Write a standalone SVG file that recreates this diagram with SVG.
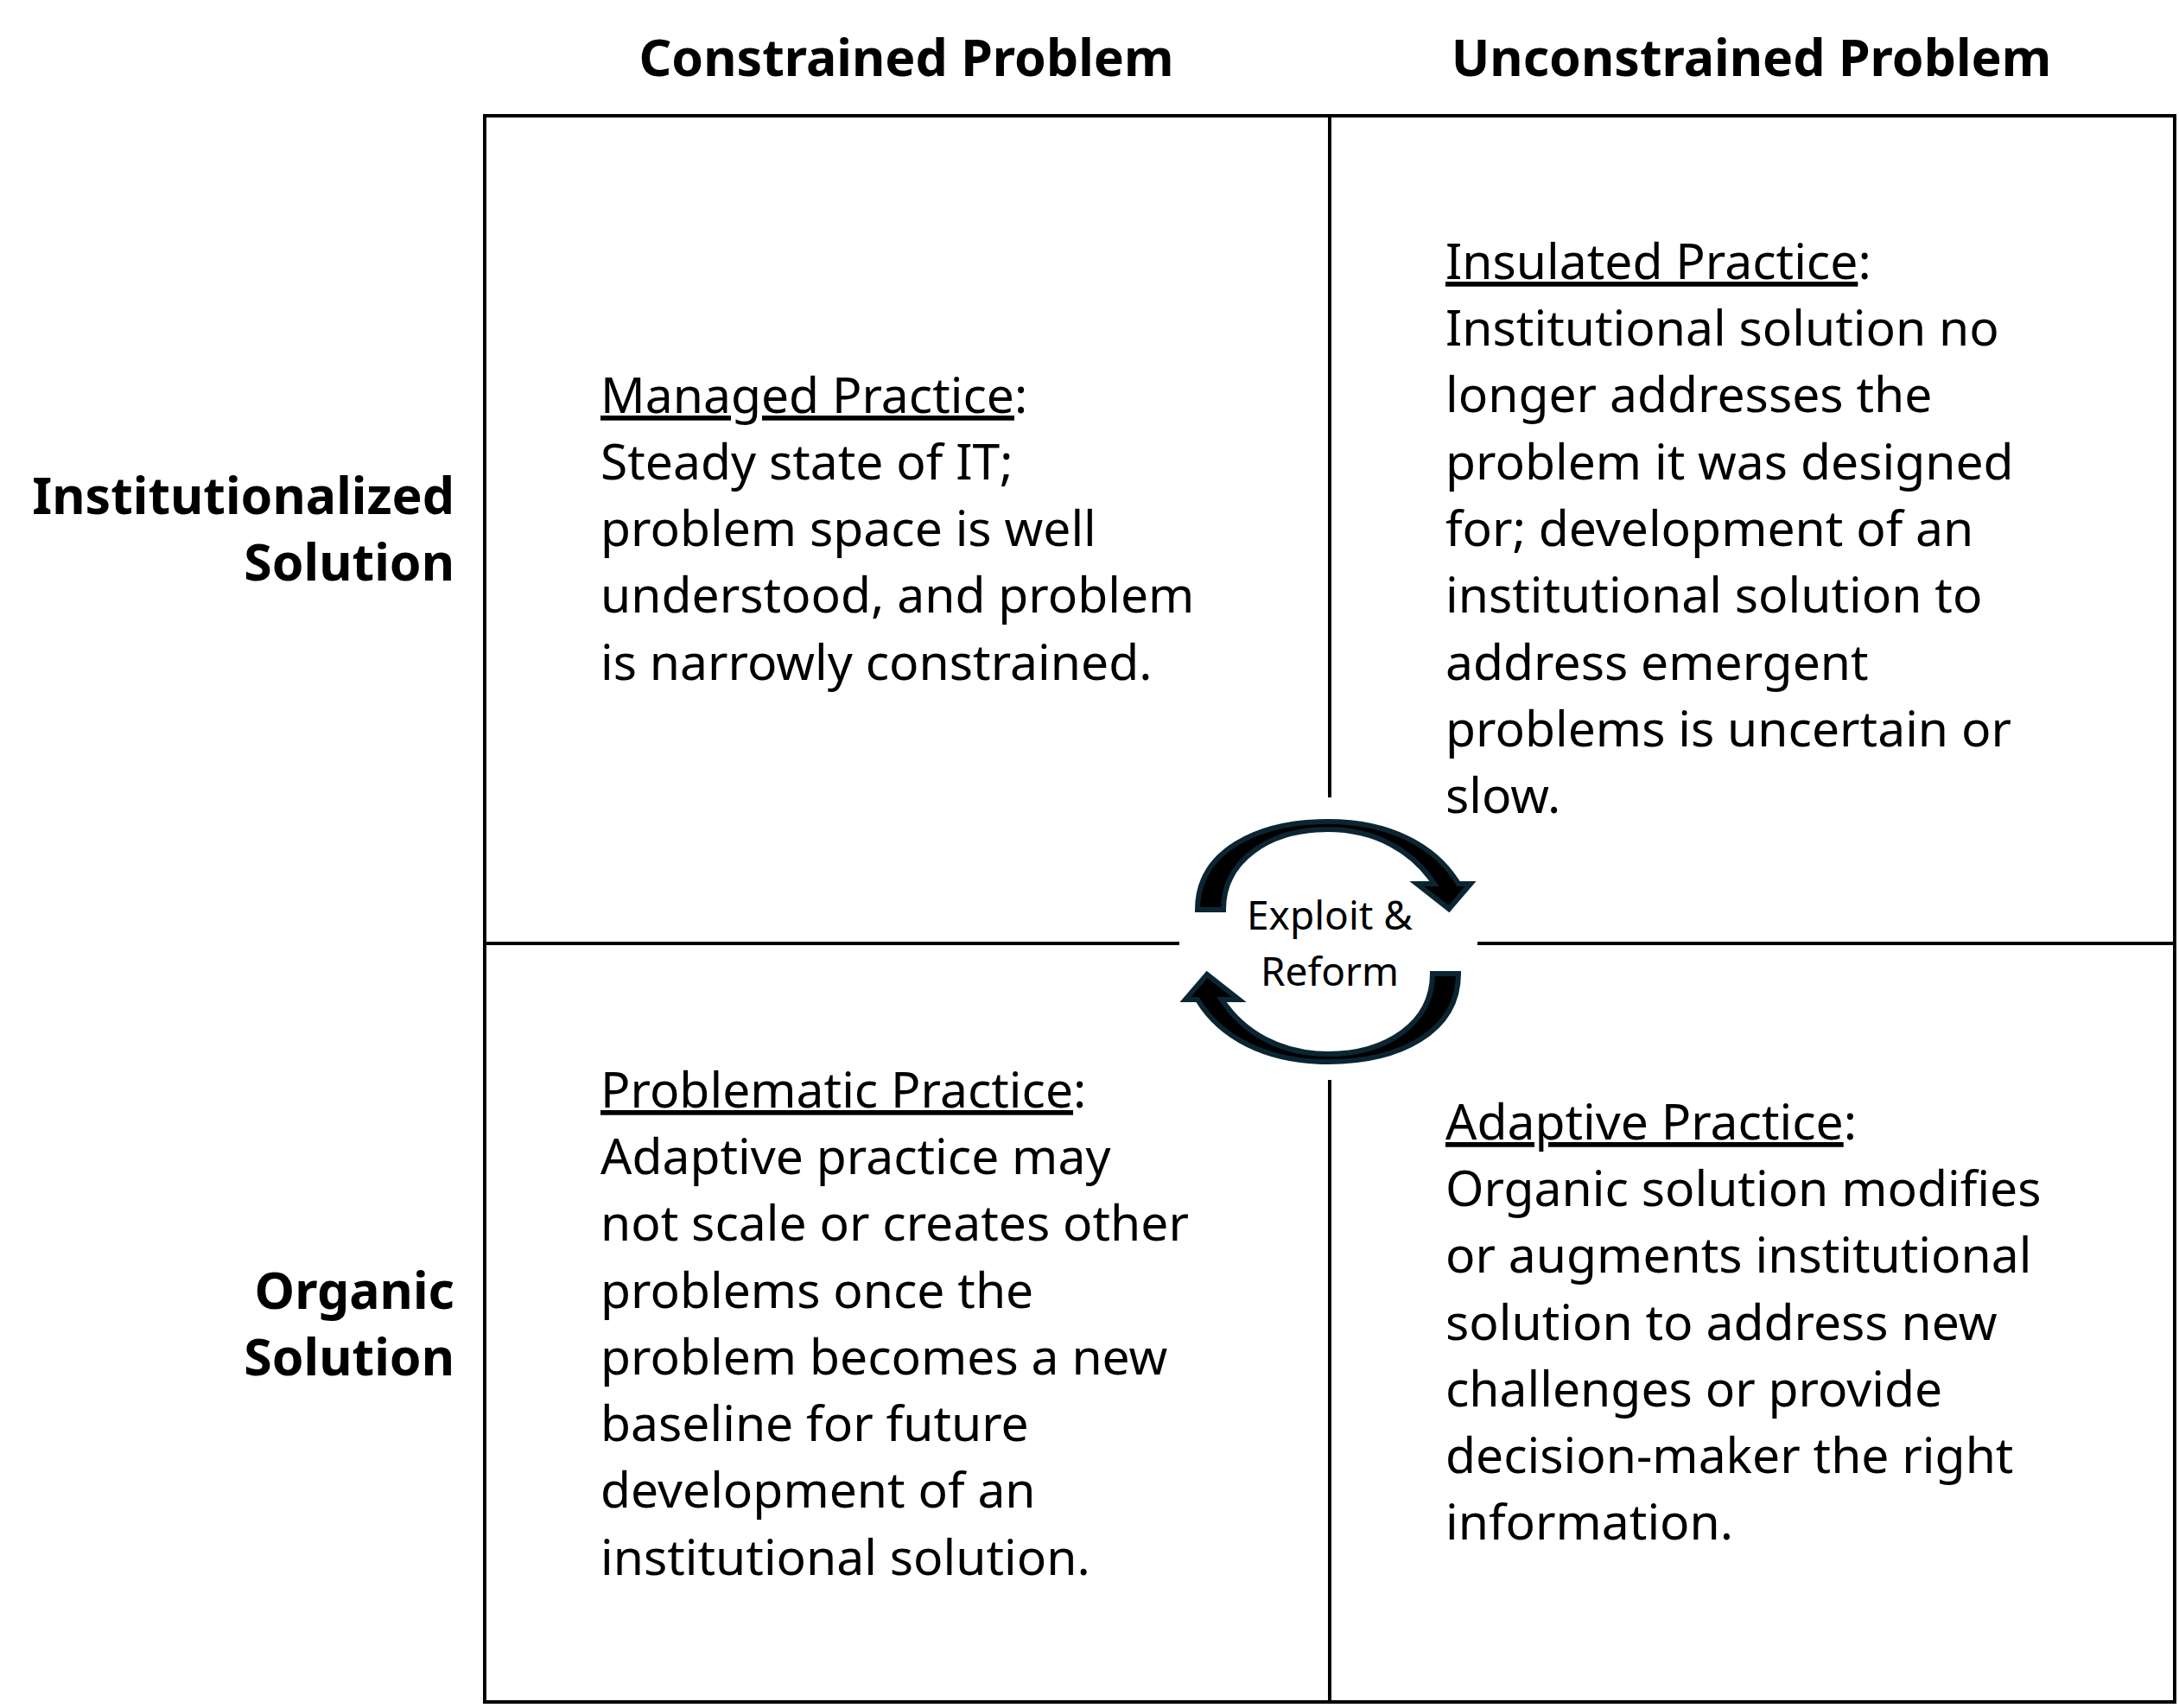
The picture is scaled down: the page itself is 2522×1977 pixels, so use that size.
<svg xmlns="http://www.w3.org/2000/svg" width="2522" height="1977" viewBox="0 0 2522 1977">
<style>
.h{font-family:"Noto Sans","Liberation Sans",sans-serif;font-weight:bold;font-size:59px;fill:#000}
.b{font-family:"Noto Sans","Liberation Sans",sans-serif;font-size:57px;fill:#000}
.c{font-family:"Noto Sans","Liberation Sans",sans-serif;font-size:46px;fill:#000}
.u{text-decoration:underline}
.ln{stroke:#000;stroke-width:4;fill:none}
.ar{fill:#000;stroke:#0b2533;stroke-width:6;stroke-linejoin:miter}
</style>
<rect width="2522" height="1977" fill="#fff"/>
<g id="headers">
<text class="h" x="1049" y="88" text-anchor="middle">Constrained Problem</text>
<text class="h" x="2027" y="88" text-anchor="middle">Unconstrained Problem</text>
<text class="h" x="526" y="595" text-anchor="end">Institutionalized</text>
<text class="h" x="526" y="672" text-anchor="end">Solution</text>
<text class="h" x="526" y="1515" text-anchor="end">Organic</text>
<text class="h" x="526" y="1592" text-anchor="end">Solution</text>
</g>
<g id="grid">
<rect class="ln" x="561" y="134" width="1956" height="1836"/>
<line class="ln" x1="1539" y1="134" x2="1539" y2="923"/>
<line class="ln" x1="1539" y1="1250" x2="1539" y2="1970"/>
<line class="ln" x1="561" y1="1092" x2="1365" y2="1092"/>
<line class="ln" x1="1710" y1="1092" x2="2517" y2="1092"/>
</g>
<g id="managed">
<text class="b"><tspan x="695" y="478"><tspan class="u">Managed Practice</tspan>:</tspan><tspan x="695" y="555">Steady state of IT;</tspan><tspan x="695" y="632">problem space is well</tspan><tspan x="695" y="709">understood, and problem</tspan><tspan x="695" y="787">is narrowly constrained.</tspan></text>
</g>
<g id="insulated">
<text class="b"><tspan x="1673" y="323"><tspan class="u">Insulated Practice</tspan>:</tspan><tspan x="1673" y="400">Institutional solution no</tspan><tspan x="1673" y="477">longer addresses the</tspan><tspan x="1673" y="555">problem it was designed</tspan><tspan x="1673" y="632">for; development of an</tspan><tspan x="1673" y="709">institutional solution to</tspan><tspan x="1673" y="787">address emergent</tspan><tspan x="1673" y="864">problems is uncertain or</tspan><tspan x="1673" y="941">slow.</tspan></text>
</g>
<g id="problematic">
<text class="b"><tspan x="695" y="1282"><tspan class="u">Problematic Practice</tspan>:</tspan><tspan x="695" y="1359">Adaptive practice may</tspan><tspan x="695" y="1436">not scale or creates other</tspan><tspan x="695" y="1514">problems once the</tspan><tspan x="695" y="1591">problem becomes a new</tspan><tspan x="695" y="1668">baseline for future</tspan><tspan x="695" y="1745">development of an</tspan><tspan x="695" y="1823">institutional solution.</tspan></text>
</g>
<g id="adaptive">
<text class="b"><tspan x="1673" y="1319"><tspan class="u">Adaptive Practice</tspan>:</tspan><tspan x="1673" y="1396">Organic solution modifies</tspan><tspan x="1673" y="1473">or augments institutional</tspan><tspan x="1673" y="1551">solution to address new</tspan><tspan x="1673" y="1628">challenges or provide</tspan><tspan x="1673" y="1705">decision-maker the right</tspan><tspan x="1673" y="1782">information.</tspan></text>
</g>
<g id="cycle">
<path class="ar" d="M1386,1053 C1386,985 1455,951 1537,951 C1610,951 1662,980 1688,1023 L1702,1023 L1677,1052 L1640,1023 L1660,1023 C1635,985 1592,960 1537,960 C1470,960 1416,995 1416,1053 Z"/>
<path class="ar" transform="rotate(180 1537 1090)" d="M1386,1053 C1386,985 1455,951 1537,951 C1610,951 1662,980 1688,1023 L1702,1023 L1677,1052 L1640,1023 L1660,1023 C1635,985 1592,960 1537,960 C1470,960 1416,995 1416,1053 Z"/>
<text class="c" x="1539" y="1076" text-anchor="middle">Exploit &amp;</text>
<text class="c" x="1539" y="1141" text-anchor="middle">Reform</text>
</g>
</svg>
